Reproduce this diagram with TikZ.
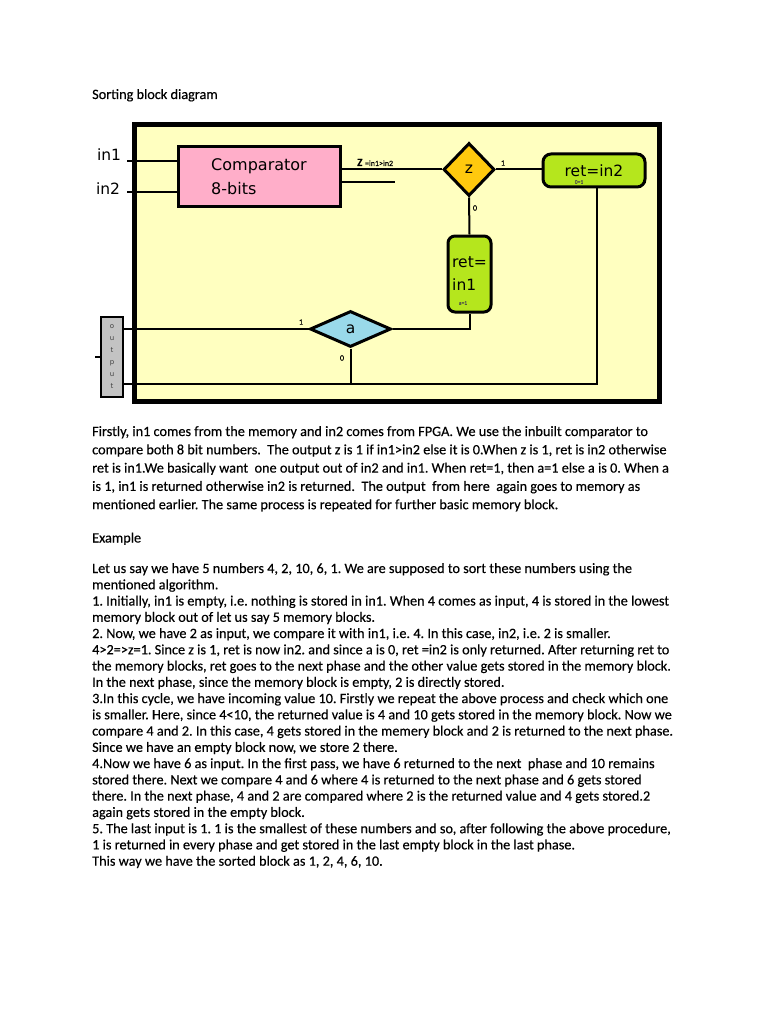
\documentclass[tikz,border=0pt]{standalone}
\usepackage{fontspec}
\setmainfont{Carlito}[FakeBold=0.3]
\newfontfamily\djv{DejaVu Sans}
\usetikzlibrary{shapes.geometric}
\definecolor{frameY}{HTML}{FFFFC0}
\definecolor{rose}{HTML}{FFAEC9}
\definecolor{gold}{HTML}{FFC90E}
\definecolor{lime}{HTML}{B5E61D}
\definecolor{turq}{HTML}{99D9EA}
\definecolor{lgray}{HTML}{C3C3C3}
\tikzset{
  conn/.style={line width=2pt},
  blk/.style={draw, line width=3pt, inner sep=0pt},
  dia/.style={blk, diamond, inner sep=0pt},
  rbox/.style={blk, rounded corners=8pt, fill=lime},
  lbl/.style={font=\fontsize{15.5}{23}\djv\selectfont, inner sep=0pt},
  small/.style={font=\fontsize{8}{9}\selectfont, inner sep=0pt},
  tinyl/.style={font=\fontsize{5.5}{6}\selectfont, inner sep=0pt, text=black!70},
  txt/.style={anchor=base west, inner sep=0pt, font=\fontsize{14.25}{16}\selectfont},
}
\frenchspacing
\begin{document}
\begin{tikzpicture}[x=1pt,y=-1pt]
\useasboundingbox (0,0) rectangle (768,1024);
\fill[white] (0,0) rectangle (768,1024);
\node[txt] (title) at (92,99) {Sorting block diagram};
% frame
\node[draw, line width=5pt, fill=frameY, minimum width=525pt, minimum height=276pt, inner sep=0pt] (frame) at (396.5,263) {};
% nodes
\node[blk, fill=rose, minimum width=162pt, minimum height=60pt, align=left, font=\fontsize{16}{24}\djv\selectfont] (comp) at (259,176.7) {Comparator\\8-bits};
\node[lbl] (in1) at (109,155) {in1};
\node[lbl] (in2) at (108,189) {in2};
\node[dia, fill=gold, minimum width=51pt, minimum height=53pt, font=\fontsize{15.5}{18}\djv\selectfont] (z) at (469,169.5) {z};
\node[rbox, minimum width=102pt, minimum height=33pt, font=\fontsize{15.5}{18}\djv\selectfont] (ret2) at (594,170.5) {ret=in2};
\node[tinyl] (ret2s) at (579,182) {0=1};
\node[rbox, rounded corners=7pt, minimum width=43pt, minimum height=76pt, align=left, font=\fontsize{15.5}{23}\djv\selectfont] (ret1) at (469.5,274) {ret=\\in1};
\node[tinyl] (ret1s) at (463,303) {a=1};
\node[dia, fill=turq, minimum width=81pt, minimum height=36pt, font=\fontsize{15.5}{18}\djv\selectfont] (a) at (350.5,329) {a};
\node[blk, line width=2.5pt, fill=lgray, minimum width=22pt, minimum height=80pt, align=center, font=\fontsize{7}{12}\djv\selectfont, text=black!75] (out) at (112,357) {o\\u\\t\\p\\u\\t};
% coordinates
\coordinate (i1) at (127,161);
\coordinate (i2) at (127,192);
\coordinate (c2) at (395,182);
\coordinate (br) at (597,384);
\coordinate (ol) at (95,357);
% connectors
\draw[conn] (i1) -- (i1 -| comp.west);
\draw[conn] (i2) -- (i2 -| comp.west);
\draw[conn] (z.west) -- (z.west -| comp.east);
\draw[conn] (c2 -| comp.east) -- (c2);
\draw[conn] (z.east) -- (z.east -| ret2.west);
\draw[conn] (z.south) -- (ret1.north);
\draw[conn] (ret1.south) |- (a.east);
\draw[conn] (a.west) -- (a.west -| out.east);
\draw[conn] (a.south) -- (a.south |- br);
\draw[conn] (br |- ret2.south) -- (br) -- (br -| out.east);
\draw[line width=2.5pt] (ol) -- (out.west);
% labels
\node[anchor=base west, inner sep=0pt] (zl) at (357,166) {\fontsize{11}{12}\selectfont\textbf{Z} \fontsize{8}{9}\selectfont=in1>in2};
\node[small] (z1) at (503,163) {1};
\node[small] (z0) at (475,208) {0};
\node[small] (a1) at (301,322) {1};
\node[small] (a0) at (342,358) {0};
% text
\node[txt] (p1) at (92,436) {Firstly, in1 comes from the memory and in2 comes from FPGA. We use the inbuilt comparator to};
\node[txt] (p2) at (92,454.3) {compare both 8 bit numbers.~ The output z is 1 if in1>in2 else it is 0.When z is 1, ret is in2 otherwise};
\node[txt] (p3) at (92,472.6) {ret is in1.We basically want~ one output out of in2 and in1. When ret=1, then a=1 else a is 0. When a};
\node[txt] (p4) at (92,490.9) {is 1, in1 is returned otherwise in2 is returned.~ The output~ from here~ again goes to memory as};
\node[txt] (p5) at (92,509.2) {mentioned earlier. The same process is repeated for further basic memory block.};
\node[txt] (ex) at (92,542.5) {Example};
\node[txt] (e1) at (92,573) {Let us say we have 5 numbers 4, 2, 10, 6, 1. We are supposed to sort these numbers using the};
\node[txt] (e2) at (92,589.3) {mentioned algorithm.};
\node[txt] (e3) at (92,605.5) {1. Initially, in1 is empty, i.e. nothing is stored in in1. When 4 comes as input, 4 is stored in the lowest};
\node[txt] (e4) at (92,621.8) {memory block out of let us say 5 memory blocks.};
\node[txt] (e5) at (92,638.0) {2. Now, we have 2 as input, we compare it with in1, i.e. 4. In this case, in2, i.e. 2 is smaller.};
\node[txt] (e6) at (92,654.3) {4>2=>z=1. Since z is 1, ret is now in2. and since a is 0, ret =in2 is only returned. After returning ret to};
\node[txt] (e7) at (92,670.6) {the memory blocks, ret goes to the next phase and the other value gets stored in the memory block.};
\node[txt] (e8) at (92,686.8) {In the next phase, since the memory block is empty, 2 is directly stored.};
\node[txt] (e9) at (92,703.1) {3.In this cycle, we have incoming value 10. Firstly we repeat the above process and check which one};
\node[txt] (e10) at (92,719.3) {is smaller. Here, since 4<10, the returned value is 4 and 10 gets stored in the memory block. Now we};
\node[txt] (e11) at (92,735.6) {compare 4 and 2. In this case, 4 gets stored in the memery block and 2 is returned to the next phase.};
\node[txt] (e12) at (92,751.9) {Since we have an empty block now, we store 2 there.};
\node[txt] (e13) at (92,768.1) {4.Now we have 6 as input. In the first pass, we have 6 returned to the next~ phase and 10 remains};
\node[txt] (e14) at (92,784.4) {stored there. Next we compare 4 and 6 where 4 is returned to the next phase and 6 gets stored};
\node[txt] (e15) at (92,800.6) {there. In the next phase, 4 and 2 are compared where 2 is the returned value and 4 gets stored.2};
\node[txt] (e16) at (92,816.9) {again gets stored in the empty block.};
\node[txt] (e17) at (92,833.2) {5. The last input is 1. 1 is the smallest of these numbers and so, after following the above procedure,};
\node[txt] (e18) at (92,849.4) {1 is returned in every phase and get stored in the last empty block in the last phase.};
\node[txt] (e19) at (92,865.7) {This way we have the sorted block as 1, 2, 4, 6, 10.};
\end{tikzpicture}
\end{document}
